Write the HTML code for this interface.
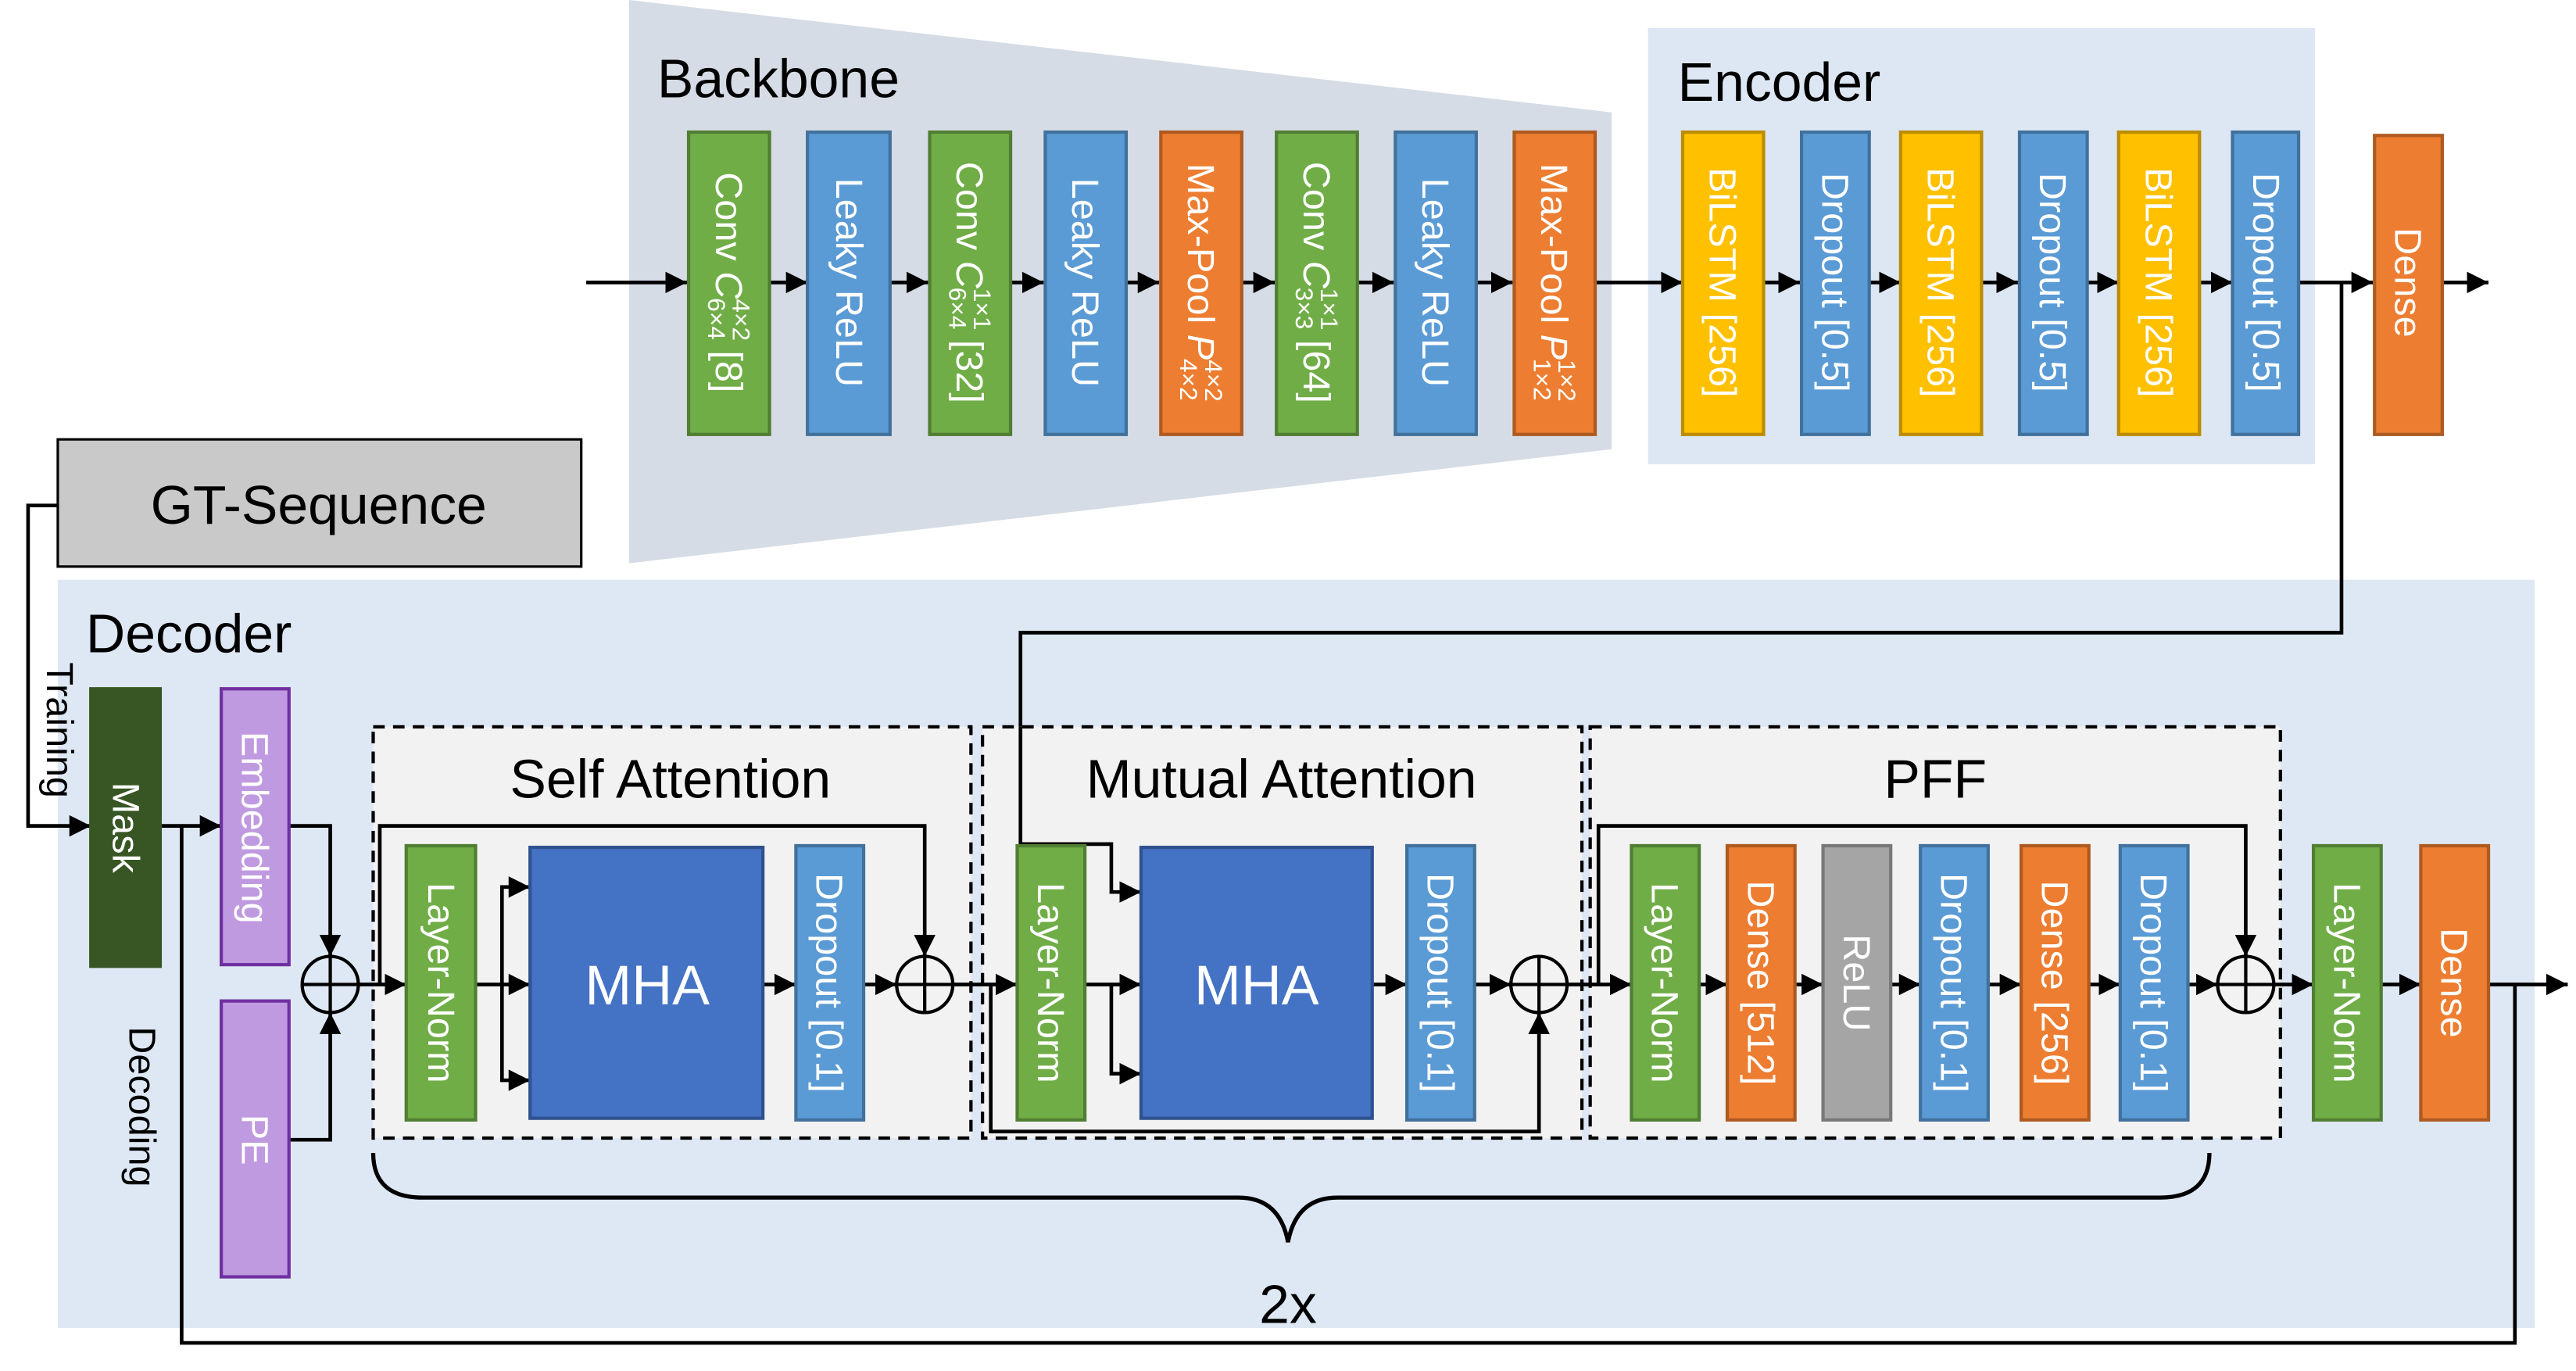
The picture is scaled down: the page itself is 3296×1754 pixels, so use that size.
<!DOCTYPE html>
<html><head><meta charset="utf-8"><style>
html,body{margin:0;padding:0;background:#fff;}
svg{display:block;}
text{font-family:"Liberation Sans",sans-serif;}
.t{font-size:23px;fill:#fff;}
.h{font-size:33px;fill:#000;}
</style></head><body>
<svg width="3296" height="1754" viewBox="0 0 1560 830" preserveAspectRatio="none" xmlns="http://www.w3.org/2000/svg">
<defs>
<marker id="b" viewBox="0 0 10 10" refX="10" refY="5" markerWidth="13" markerHeight="13" orient="auto" markerUnits="userSpaceOnUse"><path d="M0,0 L10,5 L0,10 z" fill="#000"/></marker>
</defs>
<!-- Backbone -->
<polygon points="381,0 976,68 976,272 381,341" fill="#d6dce5"/>
<text x="398" y="59" class="h">Backbone</text>
<!-- Encoder -->
<rect x="998" y="17" width="404" height="264" fill="#dde7f3"/>
<text x="1016" y="61" class="h">Encoder</text>
<!-- Decoder -->
<rect x="35" y="351" width="1500" height="453" fill="#dee8f4"/>
<text x="52" y="395" class="h">Decoder</text>
<!-- GT -->
<rect x="35" y="266" width="317" height="77" fill="#c9c9c9" stroke="#000" stroke-width="1.5"/>
<text x="193" y="317" class="h" text-anchor="middle">GT-Sequence</text>

<g stroke="#000" stroke-width="2.2" fill="none">
<line x1="355" y1="171" x2="416" y2="171" marker-end="url(#b)"/>
<line x1="466" y1="171" x2="489" y2="171" marker-end="url(#b)"/>
<line x1="539" y1="171" x2="562" y2="171" marker-end="url(#b)"/>
<line x1="612" y1="171" x2="632" y2="171" marker-end="url(#b)"/>
<line x1="682" y1="171" x2="702" y2="171" marker-end="url(#b)"/>
<line x1="752" y1="171" x2="772" y2="171" marker-end="url(#b)"/>
<line x1="822" y1="171" x2="844" y2="171" marker-end="url(#b)"/>
<line x1="894" y1="171" x2="916" y2="171" marker-end="url(#b)"/>
<line x1="966" y1="171" x2="1019" y2="171" marker-end="url(#b)"/>
<line x1="1068" y1="171" x2="1090" y2="171" marker-end="url(#b)"/>
<line x1="1132" y1="171" x2="1151" y2="171" marker-end="url(#b)"/>
<line x1="1200" y1="171" x2="1222" y2="171" marker-end="url(#b)"/>
<line x1="1264" y1="171" x2="1283" y2="171" marker-end="url(#b)"/>
<line x1="1332" y1="171" x2="1352" y2="171" marker-end="url(#b)"/>
<line x1="1392" y1="171" x2="1437" y2="171" marker-end="url(#b)"/>
<line x1="1479" y1="171" x2="1507" y2="171" marker-end="url(#b)"/>
<polyline points="1418,171 1418,383 618,383 618,511 673,511 673,540 691,540" marker-end="url(#b)"/>
<polyline points="35,306 17,306 17,500 55,500" marker-end="url(#b)"/>
<line x1="97" y1="500" x2="134" y2="500" marker-end="url(#b)"/>
<polyline points="110,500 110,813 1523,813 1523,596"/>
<polyline points="175,500 200,500 200,579" marker-end="url(#b)"/>
<polyline points="175,690 200,690 200,613" marker-end="url(#b)"/>
<line x1="1507" y1="596" x2="1555" y2="596" marker-end="url(#b)"/>
</g>

<!-- dashed boxes -->
<g fill="#f2f2f2" stroke="#000" stroke-width="2" stroke-dasharray="7,5">
<rect x="226" y="440" width="362" height="249"/>
<rect x="595" y="440" width="363" height="249"/>
<rect x="963" y="440" width="418" height="249"/>
</g>
<text x="406" y="483" class="h" text-anchor="middle">Self Attention</text>
<text x="776" y="483" class="h" text-anchor="middle">Mutual Attention</text>
<text x="1172" y="483" class="h" text-anchor="middle">PFF</text>

<g stroke="#000" stroke-width="2.2" fill="none">
<line x1="217" y1="596" x2="246" y2="596" marker-end="url(#b)"/>
<line x1="288" y1="596" x2="321" y2="596" marker-end="url(#b)"/>
<polyline points="304,596 304,537 321,537" marker-end="url(#b)"/>
<polyline points="304,596 304,654 321,654" marker-end="url(#b)"/>
<line x1="462" y1="596" x2="482" y2="596" marker-end="url(#b)"/>
<line x1="523" y1="596" x2="543" y2="596" marker-end="url(#b)"/>
<polyline points="230,596 230,500 560,500 560,579" marker-end="url(#b)"/>
<line x1="577" y1="596" x2="616" y2="596" marker-end="url(#b)"/>
<polyline points="600,596 600,685 932,685 932,613" marker-end="url(#b)"/>
<polyline points="618,440 618,511 673,511 673,540 691,540" marker-end="url(#b)"/>
<line x1="657" y1="596" x2="691" y2="596" marker-end="url(#b)"/>
<polyline points="673,596 673,650 691,650" marker-end="url(#b)"/>
<line x1="831" y1="596" x2="852" y2="596" marker-end="url(#b)"/>
<line x1="893" y1="596" x2="915" y2="596" marker-end="url(#b)"/>
<line x1="949" y1="596" x2="988" y2="596" marker-end="url(#b)"/>
<polyline points="968,596 968,500 1360,500 1360,579" marker-end="url(#b)"/>
<line x1="1029" y1="596" x2="1046" y2="596" marker-end="url(#b)"/>
<line x1="1087" y1="596" x2="1104" y2="596" marker-end="url(#b)"/>
<line x1="1145" y1="596" x2="1163" y2="596" marker-end="url(#b)"/>
<line x1="1204" y1="596" x2="1224" y2="596" marker-end="url(#b)"/>
<line x1="1265" y1="596" x2="1284" y2="596" marker-end="url(#b)"/>
<line x1="1325" y1="596" x2="1343" y2="596" marker-end="url(#b)"/>
<line x1="1377" y1="596" x2="1401" y2="596" marker-end="url(#b)"/>
<line x1="1442" y1="596" x2="1466" y2="596" marker-end="url(#b)"/>
</g>

<g fill="none" stroke="#000" stroke-width="2">
<circle cx="200" cy="596" r="17"/><path d="M183,596H217M200,579V613"/>
<circle cx="560" cy="596" r="17"/><path d="M543,596H577M560,579V613"/>
<circle cx="932" cy="596" r="17"/><path d="M915,596H949M932,579V613"/>
<circle cx="1360" cy="596" r="17"/><path d="M1343,596H1377M1360,579V613"/>
</g>

<g stroke-width="2">
<rect x="417" y="80" width="49" height="183" fill="#70ad47" stroke="#507e32"/>
<rect x="489" y="80" width="50" height="183" fill="#5b9bd5" stroke="#41719c"/>
<rect x="563" y="80" width="49" height="183" fill="#70ad47" stroke="#507e32"/>
<rect x="633" y="80" width="49" height="183" fill="#5b9bd5" stroke="#41719c"/>
<rect x="703" y="80" width="49" height="183" fill="#ed7d31" stroke="#ae5a21"/>
<rect x="773" y="80" width="49" height="183" fill="#70ad47" stroke="#507e32"/>
<rect x="845" y="80" width="49" height="183" fill="#5b9bd5" stroke="#41719c"/>
<rect x="917" y="80" width="49" height="183" fill="#ed7d31" stroke="#ae5a21"/>
<rect x="1019" y="80" width="49" height="183" fill="#ffc000" stroke="#bc8c00"/>
<rect x="1091" y="80" width="41" height="183" fill="#5b9bd5" stroke="#41719c"/>
<rect x="1151" y="80" width="49" height="183" fill="#ffc000" stroke="#bc8c00"/>
<rect x="1223" y="80" width="41" height="183" fill="#5b9bd5" stroke="#41719c"/>
<rect x="1283" y="80" width="49" height="183" fill="#ffc000" stroke="#bc8c00"/>
<rect x="1352" y="80" width="40" height="183" fill="#5b9bd5" stroke="#41719c"/>
<rect x="1438" y="82" width="41" height="181" fill="#ed7d31" stroke="#ae5a21"/>
<rect x="55" y="417" width="42" height="168" fill="#375623" stroke="#375623"/>
<rect x="134" y="417" width="41" height="167" fill="#c09ae0" stroke="#7030a0"/>
<rect x="134" y="606" width="41" height="167" fill="#c09ae0" stroke="#7030a0"/>
<rect x="246" y="512" width="42" height="166" fill="#70ad47" stroke="#507e32"/>
<rect x="321" y="513" width="141" height="164" fill="#4472c4" stroke="#2f528f"/>
<rect x="482" y="512" width="41" height="166" fill="#5b9bd5" stroke="#41719c"/>
<rect x="616" y="512" width="41" height="166" fill="#70ad47" stroke="#507e32"/>
<rect x="691" y="513" width="140" height="164" fill="#4472c4" stroke="#2f528f"/>
<rect x="852" y="512" width="41" height="166" fill="#5b9bd5" stroke="#41719c"/>
<rect x="988" y="512" width="41" height="166" fill="#70ad47" stroke="#507e32"/>
<rect x="1046" y="512" width="41" height="166" fill="#ed7d31" stroke="#ae5a21"/>
<rect x="1104" y="512" width="41" height="166" fill="#a5a5a5" stroke="#787878"/>
<rect x="1163" y="512" width="41" height="166" fill="#5b9bd5" stroke="#41719c"/>
<rect x="1224" y="512" width="41" height="166" fill="#ed7d31" stroke="#ae5a21"/>
<rect x="1284" y="512" width="41" height="166" fill="#5b9bd5" stroke="#41719c"/>
<rect x="1401" y="512" width="41" height="166" fill="#70ad47" stroke="#507e32"/>
<rect x="1466" y="512" width="41" height="166" fill="#ed7d31" stroke="#ae5a21"/>
</g>

<g>
<text class="t" transform="translate(441,171) rotate(90)" text-anchor="middle" dominant-baseline="central">Conv <tspan font-style="italic">C</tspan><tspan font-size="15" dy="-8">4×2</tspan><tspan font-size="15" dx="-26" dy="15">6×4</tspan><tspan dy="-7"> [8]</tspan></text>
<text class="t" transform="translate(514,171) rotate(90)" text-anchor="middle" dominant-baseline="central">Leaky ReLU</text>
<text class="t" transform="translate(587,171) rotate(90)" text-anchor="middle" dominant-baseline="central">Conv <tspan font-style="italic">C</tspan><tspan font-size="15" dy="-8">1×1</tspan><tspan font-size="15" dx="-26" dy="15">6×4</tspan><tspan dy="-7"> [32]</tspan></text>
<text class="t" transform="translate(657,171) rotate(90)" text-anchor="middle" dominant-baseline="central">Leaky ReLU</text>
<text class="t" transform="translate(727,171) rotate(90)" text-anchor="middle" dominant-baseline="central">Max-Pool <tspan font-style="italic">P</tspan><tspan font-size="15" dy="-8">4×2</tspan><tspan font-size="15" dx="-26" dy="15">4×2</tspan></text>
<text class="t" transform="translate(797,171) rotate(90)" text-anchor="middle" dominant-baseline="central">Conv <tspan font-style="italic">C</tspan><tspan font-size="15" dy="-8">1×1</tspan><tspan font-size="15" dx="-26" dy="15">3×3</tspan><tspan dy="-7"> [64]</tspan></text>
<text class="t" transform="translate(869,171) rotate(90)" text-anchor="middle" dominant-baseline="central">Leaky ReLU</text>
<text class="t" transform="translate(941,171) rotate(90)" text-anchor="middle" dominant-baseline="central">Max-Pool <tspan font-style="italic">P</tspan><tspan font-size="15" dy="-8">1×2</tspan><tspan font-size="15" dx="-26" dy="15">1×2</tspan></text>
<text class="t" transform="translate(1043,171) rotate(90)" text-anchor="middle" dominant-baseline="central">BiLSTM [256]</text>
<text class="t" transform="translate(1111,171) rotate(90)" text-anchor="middle" dominant-baseline="central">Dropout [0.5]</text>
<text class="t" transform="translate(1175,171) rotate(90)" text-anchor="middle" dominant-baseline="central">BiLSTM [256]</text>
<text class="t" transform="translate(1243,171) rotate(90)" text-anchor="middle" dominant-baseline="central">Dropout [0.5]</text>
<text class="t" transform="translate(1307,171) rotate(90)" text-anchor="middle" dominant-baseline="central">BiLSTM [256]</text>
<text class="t" transform="translate(1372,171) rotate(90)" text-anchor="middle" dominant-baseline="central">Dropout [0.5]</text>
<text class="t" transform="translate(1458,171) rotate(90)" text-anchor="middle" dominant-baseline="central">Dense</text>
<text class="t" transform="translate(76,501) rotate(90)" text-anchor="middle" dominant-baseline="central">Mask</text>
<text class="t" transform="translate(154,501) rotate(90)" text-anchor="middle" dominant-baseline="central">Embedding</text>
<text class="t" transform="translate(154,690) rotate(90)" text-anchor="middle" dominant-baseline="central">PE</text>
<text class="t" transform="translate(267,595) rotate(90)" text-anchor="middle" dominant-baseline="central">Layer-Norm</text>
<text class="t" transform="translate(502,595) rotate(90)" text-anchor="middle" dominant-baseline="central">Dropout [0.1]</text>
<text class="t" transform="translate(636,595) rotate(90)" text-anchor="middle" dominant-baseline="central">Layer-Norm</text>
<text class="t" transform="translate(872,595) rotate(90)" text-anchor="middle" dominant-baseline="central">Dropout [0.1]</text>
<text class="t" transform="translate(1008,595) rotate(90)" text-anchor="middle" dominant-baseline="central">Layer-Norm</text>
<text class="t" transform="translate(1066,595) rotate(90)" text-anchor="middle" dominant-baseline="central">Dense [512]</text>
<text class="t" transform="translate(1124,595) rotate(90)" text-anchor="middle" dominant-baseline="central">ReLU</text>
<text class="t" transform="translate(1183,595) rotate(90)" text-anchor="middle" dominant-baseline="central">Dropout [0.1]</text>
<text class="t" transform="translate(1244,595) rotate(90)" text-anchor="middle" dominant-baseline="central">Dense [256]</text>
<text class="t" transform="translate(1304,595) rotate(90)" text-anchor="middle" dominant-baseline="central">Dropout [0.1]</text>
<text class="t" transform="translate(1421,595) rotate(90)" text-anchor="middle" dominant-baseline="central">Layer-Norm</text>
<text class="t" transform="translate(1486,595) rotate(90)" text-anchor="middle" dominant-baseline="central">Dense</text>
</g>
<text x="392" y="608" font-size="34" fill="#fff" text-anchor="middle">MHA</text>
<text x="761" y="608" font-size="34" fill="#fff" text-anchor="middle">MHA</text>
<text transform="translate(36,442) rotate(90)" font-size="23" fill="#000" text-anchor="middle" dominant-baseline="central">Training</text>
<text transform="translate(86,670) rotate(90)" font-size="23" fill="#000" text-anchor="middle" dominant-baseline="central">Decoding</text>

<path d="M226,698 Q226,725 256,725 L750,725 Q775,725 780,752 Q785,725 810,725 L1308,725 Q1338,725 1338,698" fill="none" stroke="#000" stroke-width="2.5"/>
<text x="780" y="801" font-size="33" text-anchor="middle">2x</text>
</svg>
</body></html>
